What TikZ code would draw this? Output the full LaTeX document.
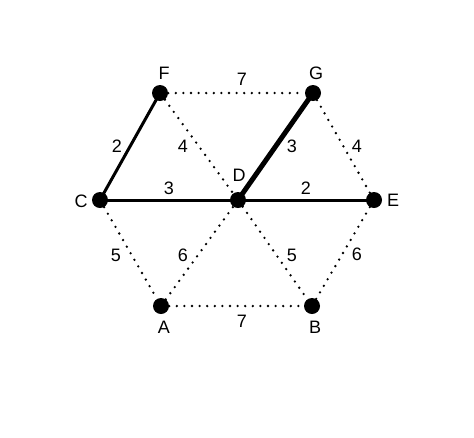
\documentclass[tikz,border=0pt]{standalone}
\usepackage{fontspec}
\setmainfont{Liberation Sans}
\begin{document}
\begin{tikzpicture}[x=1pt,y=-1pt,
  vtx/.style={circle,fill=black,inner sep=0pt,minimum size=16pt},
  txt/.style={inner sep=0pt,font=\fontsize{18}{20}\selectfont},
  dots/.style={line width=2.6pt,line cap=round,dash pattern=on 0pt off 7.6pt},
  tree/.style={line width=3pt},
  treeb/.style={line width=5pt}]
\useasboundingbox (0,0) rectangle (474,437);
\node[vtx] (F) at (160,93) {};
\node[vtx] (G) at (313,93) {};
\node[vtx] (C) at (100,200) {};
\node[vtx] (D) at (238,200) {};
\node[vtx] (E) at (374,200) {};
\node[vtx] (A) at (161,306) {};
\node[vtx] (B) at (312,306) {};
% dotted edges
\draw[dots] (F) -- (G);
\draw[dots] (F) -- (D);
\draw[dots] (G) -- (E);
\draw[dots] (C) -- (A);
\draw[dots] (A) -- (D);
\draw[dots] (D) -- (B);
\draw[dots] (B) -- (E);
\draw[dots] (A) -- (B);
% solid edges
\draw[tree] (C.center) -- (F.center);
\draw[tree] (C.center) -- (D.center);
\draw[tree] (D.center) -- (E.center);
\draw[treeb] (D.center) -- (G.center);
% vertex labels
\node[txt] (lF) at (164,73) {F};
\node[txt] (lG) at (316,73) {G};
\node[txt] (lC) at (81,201) {C};
\node[txt] (lD) at (239,175) {D};
\node[txt] (lE) at (393,200) {E};
\node[txt] (lA) at (164,327) {A};
\node[txt] (lB) at (315,327) {B};
% weights
\node[txt] (wFG) at (242,79) {7};
\node[txt] (wCF) at (117,146) {2};
\node[txt] (wFD) at (183,146) {4};
\node[txt] (wCD) at (169,188) {3};
\node[txt] (wDG) at (292,146) {3};
\node[txt] (wGE) at (357,146) {4};
\node[txt] (wDE) at (306,188) {2};
\node[txt] (wCA) at (116,255) {5};
\node[txt] (wAD) at (183,255) {6};
\node[txt] (wAB) at (242,321) {7};
\node[txt] (wDB) at (292,255) {5};
\node[txt] (wBE) at (357,254) {6};
\end{tikzpicture}
\end{document}
